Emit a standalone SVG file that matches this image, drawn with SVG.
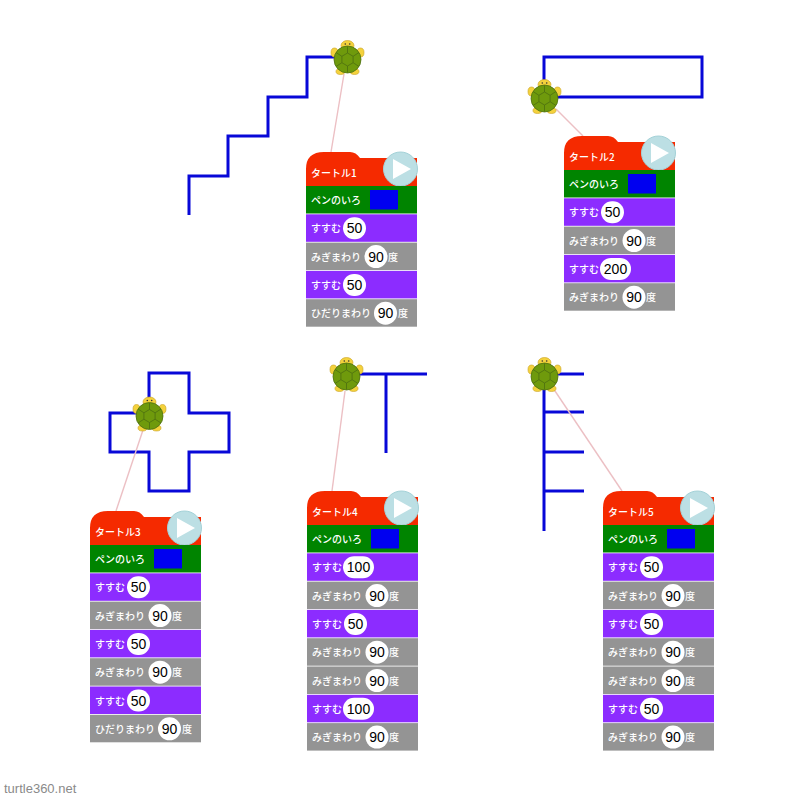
<svg xmlns="http://www.w3.org/2000/svg" width="800" height="800" viewBox="0 0 800 800">
<style>
.pen{fill:none;stroke:#0808d8;stroke-width:3;stroke-linejoin:miter}
.tie{stroke:#ecc0c4;stroke-width:1.4;fill:none}
.hd{fill:#f52a00}
.gr{fill:#008400}
.pu{fill:#8c2cff}
.gy{fill:#949494}
.sw{fill:#0000f0}
.pl{fill:#fff}
.pb{fill:#bcdfe4;stroke:#a4d2d8;stroke-width:1}
.leg{fill:#f4d23c;stroke:#c8a020;stroke-width:.6}
text{font-family:"Noto Sans CJK JP","Liberation Sans",sans-serif;fill:#fff;font-size:10px;font-weight:500}
.n{font-family:"Liberation Sans",Arial,sans-serif;fill:#000;font-size:14px;font-weight:400;text-anchor:middle}
.w{font-family:"Liberation Sans",Arial,sans-serif;fill:#8a8a8a;font-size:13px;font-weight:400}
</style>
<defs>
<g id="turtle">
<ellipse class="leg" cx="0" cy="-14" rx="6.5" ry="5"/>
<circle cx="-2.200" cy="-15.500" r=".8" fill="#333"/><circle cx="2.200" cy="-15.500" r=".8" fill="#333"/>
<ellipse class="leg" cx="-13" cy="-7" rx="3.500" ry="4.500"/>
<ellipse class="leg" cx="13" cy="-7" rx="3.500" ry="4.500"/>
<ellipse class="leg" cx="-7" cy="12" rx="4.500" ry="3"/>
<ellipse class="leg" cx="7" cy="12" rx="4.500" ry="3"/>
<circle r="13.500" fill="#6f9a0c" stroke="#4d6e10" stroke-width=".8"/>
<path d="M0,-6.500 5.600,-3.200 5.600,3.200 0,6.500 -5.600,3.200 -5.600,-3.200Z M0,-6.500V-13 M5.600,-3.200 11.500,-7 M5.600,3.200 11.500,7 M0,6.500V13 M-5.600,3.200 -11.500,7 M-5.600,-3.200 -11.500,-7" fill="none" stroke="#4d6e10" stroke-width=".8"/>
</g>
<g id="head">
<path class="hd" d="M0,34V17Q0,0 18,0H44Q50,0 54,6H111V34Z"/>
<circle class="pb" cx="94.500" cy="17" r="17"/>
<path class="pl" d="M87,7 105,17 87,27Z"/>
</g>
<g id="color">
<rect class="gr" width="111" height="27.500"/>
<rect class="sw" x="64" y="4" width="28" height="19.500"/>
<text x="5" y="18">ペンのいろ</text>
</g>
<g id="go50"><rect class="pu" width="111" height="27.500"/><text x="5" y="18">すすむ</text><rect class="pl" x="37" y="3" width="23" height="22" rx="11"/><text class="n" x="48.500" y="19">50</text></g>
<g id="go100"><rect class="pu" width="111" height="27.500"/><text x="5" y="18">すすむ</text><rect class="pl" x="36" y="3" width="31" height="22" rx="11"/><text class="n" x="51.500" y="19">100</text></g>
<g id="go200"><rect class="pu" width="111" height="27.500"/><text x="5" y="18">すすむ</text><rect class="pl" x="36" y="3" width="31" height="22" rx="11"/><text class="n" x="51.500" y="19">200</text></g>
<g id="right"><rect class="gy" width="111" height="27.500"/><text x="5" y="18">みぎまわり</text><circle class="pl" cx="70" cy="14" r="11.500"/><text class="n" x="70" y="19">90</text><text x="82" y="18">度</text></g>
<g id="left"><rect class="gy" width="111" height="27.500"/><text x="5" y="18">ひだりまわり</text><circle class="pl" cx="79.500" cy="14" r="11.500"/><text class="n" x="79.500" y="19">90</text><text x="92" y="18">度</text></g>
</defs>
<g id="connectors">
<path class="pen" d="M189,215V176H228V136H268V97H307V57H347"/>
<path class="pen" d="M544,98V57H702V97H544"/>
<path class="pen" d="M149,413V373H189V413H229V452H189V491H149V452H110V413H149"/>
<path class="pen" d="M346,374H427M386,374V453"/>
<path class="pen" d="M544,374H584M544,374V531M544,412H584M544,452H584M544,491H584"/>
<path class="tie" d="M344,74 331,152"/>
<path class="tie" d="M556,109 583,136"/>
<path class="tie" d="M143,430 116,511"/>
<path class="tie" d="M345,391 332,491"/>
<path class="tie" d="M553,388 622,491"/>
</g>
<g id="turtle1"><use href="#turtle" x="347.500" y="59.500"/></g>
<g id="turtle2"><use href="#turtle" x="544.500" y="98.500"/></g>
<g id="turtle3"><use href="#turtle" x="149.500" y="416"/></g>
<g id="turtle4"><use href="#turtle" x="346.500" y="376.500"/></g>
<g id="turtle5"><use href="#turtle" x="544.500" y="376.500"/></g>
<g id="block1" transform="translate(306,152)">
<use href="#head"/><text x="5" y="24.500">タートル1</text>
<use href="#color" y="34"/><use href="#go50" y="62.300"/><use href="#right" y="90.600"/><use href="#go50" y="118.900"/><use href="#left" y="147.200"/>
</g>
<g id="block2" transform="translate(564,136)">
<use href="#head"/><text x="5" y="24.500">タートル2</text>
<use href="#color" y="34"/><use href="#go50" y="62.300"/><use href="#right" y="90.600"/><use href="#go200" y="118.900"/><use href="#right" y="147.200"/>
</g>
<g id="block3" transform="translate(90,511)">
<use href="#head"/><text x="5" y="24.500">タートル3</text>
<use href="#color" y="34"/><use href="#go50" y="62.300"/><use href="#right" y="90.600"/><use href="#go50" y="118.900"/><use href="#right" y="147.200"/><use href="#go50" y="175.500"/><use href="#left" y="203.800"/>
</g>
<g id="block4" transform="translate(307,491)">
<use href="#head"/><text x="5" y="24.500">タートル4</text>
<use href="#color" y="34"/><use href="#go100" y="62.300"/><use href="#right" y="90.600"/><use href="#go50" y="118.900"/><use href="#right" y="147.200"/><use href="#right" y="175.500"/><use href="#go100" y="203.800"/><use href="#right" y="232.100"/>
</g>
<g id="block5" transform="translate(603,491)">
<use href="#head"/><text x="5" y="24.500">タートル5</text>
<use href="#color" y="34"/><use href="#go50" y="62.300"/><use href="#right" y="90.600"/><use href="#go50" y="118.900"/><use href="#right" y="147.200"/><use href="#right" y="175.500"/><use href="#go50" y="203.800"/><use href="#right" y="232.100"/>
</g>
<text class="w" x="4" y="793">turtle360.net</text>
</svg>
